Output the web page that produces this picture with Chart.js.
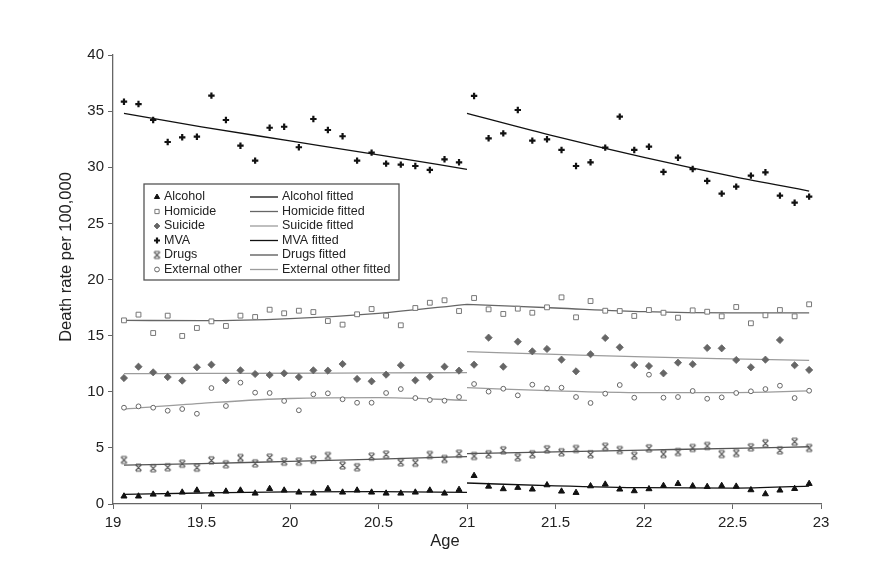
<!DOCTYPE html>
<html><head><meta charset="utf-8">
<script src="https://cdn.jsdelivr.net/npm/chart.js@4.4.0/dist/chart.umd.min.js"></script>
<style>html,body{margin:0;padding:0;background:#fff}#wrap{width:895px;height:581px}</style>
</head><body><div id="wrap"><canvas id="c" width="895" height="581"></canvas></div>
<script>
// ---- data (ages in years, rates per 100,000) ----
const agesLeft = [19.062,19.144,19.227,19.309,19.391,19.474,19.556,19.638,19.720,19.803,19.885,19.967,20.050,20.132,20.214,20.297,20.379,20.461,20.543,20.626,20.708,20.790,20.873,20.955];
const agesRight = [21.040,21.122,21.205,21.287,21.369,21.452,21.534,21.616,21.698,21.781,21.863,21.945,22.028,22.110,22.192,22.275,22.357,22.439,22.521,22.604,22.686,22.768,22.851,22.933];

const alcoholL = [0.69,0.69,0.86,0.86,1.04,1.22,0.86,1.13,1.22,0.95,1.36,1.22,1.04,0.95,1.36,1.04,1.22,1.04,0.95,0.95,1.04,1.22,0.95,1.28];
const alcoholR = [2.52,1.57,1.34,1.46,1.31,1.69,1.13,1.01,1.60,1.75,1.31,1.16,1.34,1.63,1.81,1.60,1.54,1.63,1.57,1.25,0.89,1.22,1.36,1.81];
const homicideL = [16.36,16.87,15.23,16.78,14.97,15.68,16.27,15.86,16.78,16.66,17.31,16.99,17.22,17.10,16.30,15.98,16.90,17.37,16.78,15.92,17.46,17.93,18.15,17.19];
const homicideR = [18.35,17.34,16.93,17.40,17.04,17.52,18.41,16.63,18.08,17.22,17.19,16.75,17.28,17.04,16.60,17.25,17.13,16.72,17.55,16.10,16.81,17.28,16.72,17.79];
const suicideL = [11.22,12.23,11.73,11.31,10.99,12.18,12.41,11.02,11.91,11.58,11.49,11.64,11.31,11.91,11.88,12.47,11.14,10.93,11.52,12.36,11.02,11.34,12.23,11.88];
const suicideR = [12.41,14.82,12.23,14.46,13.60,13.81,12.86,11.82,13.34,14.79,13.96,12.38,12.29,11.64,12.59,12.45,13.90,13.87,12.83,12.18,12.86,14.61,12.36,11.94];
const mvaL = [35.84,35.63,34.21,32.25,32.67,32.72,36.38,34.21,31.92,30.59,33.52,33.61,31.78,34.30,33.32,32.76,30.59,31.30,30.32,30.23,30.11,29.76,30.71,30.44];
const mvaR = [36.35,32.58,33.02,35.10,32.37,32.49,31.54,30.11,30.44,31.75,34.51,31.54,31.83,29.58,30.85,29.84,28.78,27.65,28.27,29.25,29.55,27.47,26.84,27.38];
const drugsL = [3.92,3.24,3.18,3.27,3.59,3.24,3.89,3.54,4.10,3.62,4.13,3.77,3.77,3.95,4.28,3.44,3.27,4.22,4.40,3.71,3.68,4.37,4.01,4.48];
const drugsR = [4.28,4.43,4.78,4.16,4.43,4.87,4.61,4.90,4.43,5.10,4.81,4.30,4.96,4.45,4.63,4.99,5.17,4.45,4.54,5.05,5.41,4.78,5.55,4.99];
const externalL = [8.58,8.70,8.58,8.31,8.46,8.04,10.33,8.73,10.81,9.92,9.89,9.18,8.35,9.77,9.86,9.33,9.02,9.02,9.89,10.24,9.44,9.27,9.20,9.53];
const externalR = [10.69,10.01,10.27,9.68,10.63,10.30,10.36,9.53,9.00,9.83,10.60,9.47,11.52,9.47,9.53,10.07,9.38,9.50,9.89,10.04,10.24,10.54,9.44,10.09];

// fitted curves (evaluated at these ages)
const fitAgesLeft = [19.062,19.5,20,20.5,21];
const fitAgesRight = [21,21.5,22,22.5,22.933];
const alcoholFitL = [0.86,0.98,1.08,1.10,1.04];
const alcoholFitR = [1.87,1.62,1.45,1.42,1.60];
const homicideFitL = [16.36,16.33,16.51,16.99,17.79];
const homicideFitR = [17.79,17.46,17.13,17.02,17.02];
const suicideFitL = [11.61,11.63,11.65,11.68,11.70];
const suicideFitR = [13.57,13.33,13.10,12.93,12.80];
const mvaFitL = [34.80,33.60,32.35,31.10,29.82];
const mvaFitR = [34.80,32.75,30.88,29.19,27.88];
const drugsFitL = [3.47,3.59,3.80,4.00,4.22];
const drugsFitR = [4.48,4.64,4.80,4.96,5.10];
const externalFitL = [8.46,8.97,9.40,9.47,9.24];
const externalFitR = [10.36,10.08,9.93,9.93,10.07];

const seriesNames = ['Alcohol','Homicide','Suicide','MVA','Drugs','External other'];
const xTicks = [19,19.5,20,20.5,21,21.5,22,22.5,23];
const yTicks = [0,5,10,15,20,25,30,35,40];

// ---- helpers ----
const pts = (ages, vals) => ages.map((a,i)=>({x:a,y:vals[i]}));
const joined = (la, lv, ra, rv) => pts(la,lv).concat([{x:21,y:null}], pts(ra,rv));

// drugs marker: X with short top/bottom bars
function drugsMarker(){
  const c = document.createElement('canvas'); c.width = 11; c.height = 11;
  const g = c.getContext('2d');
  g.strokeStyle = '#555'; g.lineWidth = 1.1;
  g.beginPath();
  g.moveTo(2.5,2.5); g.lineTo(8.5,8.5);
  g.moveTo(8.5,2.5); g.lineTo(2.5,8.5);
  g.moveTo(3,2); g.lineTo(8,2);
  g.moveTo(3,9); g.lineTo(8,9);
  g.stroke();
  return c;
}
const drugsImg = drugsMarker();

const FONT = "'Liberation Sans', Arial, Helvetica, sans-serif";

const pointSets = [
  {label:'Alcohol', data: pts(agesLeft,alcoholL).concat(pts(agesRight,alcoholR)), pointStyle:'triangle', radius:3.5, bg:'#111', bc:'#111', bw:1},
  {label:'Homicide', data: pts(agesLeft,homicideL).concat(pts(agesRight,homicideR)), pointStyle:'rect', radius:3.4, bg:'#fff', bc:'#777', bw:1},
  {label:'Suicide', data: pts(agesLeft,suicideL).concat(pts(agesRight,suicideR)), pointStyle:'rectRot', radius:3.6, bg:'#666', bc:'#666', bw:0.8},
  {label:'MVA', data: pts(agesLeft,mvaL).concat(pts(agesRight,mvaR)), pointStyle:'cross', radius:3.2, bg:'#111', bc:'#111', bw:2.2},
  {label:'Drugs', data: pts(agesLeft,drugsL).concat(pts(agesRight,drugsR)), pointStyle:drugsImg, radius:4, bg:'#555', bc:'#555', bw:1},
  {label:'External other', data: pts(agesLeft,externalL).concat(pts(agesRight,externalR)), pointStyle:'circle', radius:2.4, bg:'#fff', bc:'#666', bw:1},
];
const fitSets = [
  {label:'Alcohol fitted', data: joined(fitAgesLeft,alcoholFitL,fitAgesRight,alcoholFitR), color:'#111'},
  {label:'Homicide fitted', data: joined(fitAgesLeft,homicideFitL,fitAgesRight,homicideFitR), color:'#666'},
  {label:'Suicide fitted', data: joined(fitAgesLeft,suicideFitL,fitAgesRight,suicideFitR), color:'#9c9c9c'},
  {label:'MVA fitted', data: joined(fitAgesLeft,mvaFitL,fitAgesRight,mvaFitR), color:'#111'},
  {label:'Drugs fitted', data: joined(fitAgesLeft,drugsFitL,fitAgesRight,drugsFitR), color:'#555'},
  {label:'External other fitted', data: joined(fitAgesLeft,externalFitL,fitAgesRight,externalFitR), color:'#9c9c9c'},
];

const datasets = [];
pointSets.forEach(s => datasets.push({
  type:'scatter', label:s.label, data:s.data, showLine:false,
  pointStyle:s.pointStyle, pointRadius:s.radius, pointHoverRadius:s.radius,
  backgroundColor:s.bg, borderColor:s.bc, pointBorderWidth:s.bw, borderWidth:s.bw, order:1
}));
fitSets.forEach(s => datasets.push({
  type:'line', label:s.label, data:s.data, showLine:true, spanGaps:false,
  borderColor:s.color, borderWidth:1.3, pointRadius:0, fill:false,
  cubicInterpolationMode:'monotone', order:2
}));

const overlay = {
  id:'overlay',
  afterDraw(chart){
    const ctx = chart.ctx;
    ctx.save();
    // axis titles
    ctx.fillStyle = '#222';
    ctx.font = '16.5px ' + FONT;
    ctx.textAlign = 'center'; ctx.textBaseline = 'middle';
    ctx.fillText('Age', 445, 541);
    ctx.save();
    ctx.translate(66, 257); ctx.rotate(-Math.PI/2);
    ctx.fillText('Death rate per 100,000', 0, 0);
    ctx.restore();
    // legend box
    const bx=144, by=184, bw=255, bh=96;
    ctx.fillStyle = '#fff'; ctx.fillRect(bx,by,bw,bh);
    ctx.strokeStyle = '#555'; ctx.lineWidth = 1.3; ctx.strokeRect(bx,by,bw,bh);
    ctx.font = '12.5px ' + FONT; ctx.textAlign = 'left'; ctx.textBaseline = 'middle';
    for (let i=0;i<6;i++){
      const y = 197 + i*14.5;
      const pd = chart.data.datasets[i];
      ctx.fillStyle = pd.backgroundColor; ctx.strokeStyle = pd.borderColor; ctx.lineWidth = pd.pointBorderWidth;
      const r = Math.min(pd.pointRadius, 3);
      Chart.helpers.drawPoint(ctx, {pointStyle:pd.pointStyle, radius:r, rotation:0, borderWidth:pd.pointBorderWidth}, 157, y);
      ctx.fillStyle = '#222';
      ctx.fillText(pd.label, 164, y);
      const fd = chart.data.datasets[6+i];
      ctx.strokeStyle = fd.borderColor; ctx.lineWidth = 1.3;
      ctx.beginPath(); ctx.moveTo(250,y); ctx.lineTo(278,y); ctx.stroke();
      ctx.fillStyle = '#222';
      ctx.fillText(fd.label, 282, y);
    }
    ctx.restore();
  }
};

new Chart(document.getElementById('c'), {
  type:'scatter',
  data:{datasets},
  options:{
    responsive:false, animation:false, devicePixelRatio:1,
    layout:{padding:{left:0, top:55, right:74, bottom:0}},
    plugins:{legend:{display:false}, tooltip:{enabled:false}},
    events:[],
    scales:{
      x:{type:'linear', min:19, max:23,
        afterBuildTicks: s => { s.ticks = xTicks.map(v=>({value:v})); },
        afterFit: s => { s.height = 77; },
        grid:{drawOnChartArea:false, drawTicks:true, tickLength:5, color:'#666'},
        border:{display:true, color:'#666', width:1.3},
        ticks:{font:{size:15, family:FONT}, color:'#222', padding:5, maxRotation:0,
          callback: v => String(v)}
      },
      y:{type:'linear', min:0, max:40,
        afterBuildTicks: s => { s.ticks = yTicks.map(v=>({value:v})); },
        afterFit: s => { s.width = 113; },
        grid:{drawOnChartArea:false, drawTicks:true, tickLength:5, color:'#666'},
        border:{display:true, color:'#666', width:1.3},
        ticks:{font:{size:15, family:FONT}, color:'#222', padding:4, callback: v => String(v)}
      }
    }
  },
  plugins:[overlay]
});
</script></body></html>
